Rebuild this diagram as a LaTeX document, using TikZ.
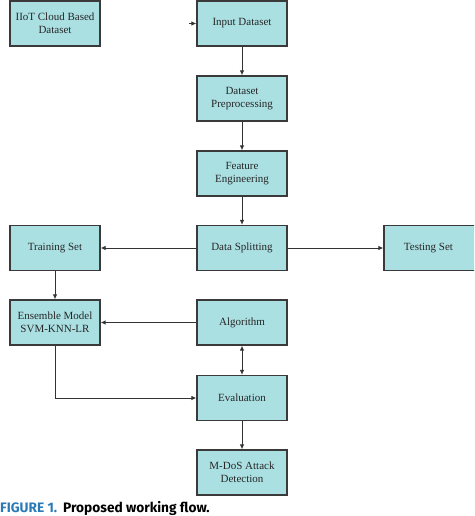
\documentclass[tikz,border=0pt]{standalone}
\usepackage{fontspec}
\setmainfont{Liberation Serif}
\newfontfamily\capfont{Fira Sans}
\usetikzlibrary{arrows.meta}
\definecolor{boxfill}{HTML}{ABE0E3}
\definecolor{boxline}{HTML}{3A3A3A}
\definecolor{capblue}{HTML}{2A7AB8}
\begin{document}
\begin{tikzpicture}[x=1pt,y=-1pt,
  blk/.style={draw=boxline, line width=1.3pt, fill=boxfill, minimum width=90pt, minimum height=45pt,
    inner sep=0pt, align=center, font=\fontsize{11}{13}\selectfont, text=black!85},
  conn/.style={draw=black!80, line width=0.9pt, -{Latex[length=5pt,width=4.5pt]}},
  dconn/.style={draw=black!80, line width=0.9pt, {Latex[length=5pt,width=4.5pt]}-{Latex[length=5pt,width=4.5pt]}}]
\useasboundingbox (0,0) rectangle (474,516);
\clip (0,0) rectangle (474,516);
\node[blk] (iiot) at (55,23.5) {IIoT Cloud Based\\Dataset};
\node[blk] (input) at (242,23.5) {Input Dataset};
\node[blk] (prep) at (242,98.5) {Dataset\\Preprocessing};
\node[blk] (feat) at (242,173.5) {Feature\\Engineering};
\node[blk] (split) at (242,248) {Data Splitting};
\node[blk] (train) at (55,248) {Training Set};
\node[blk, minimum width=92pt] (test) at (430,248) {\hspace*{-3pt}Testing Set};
\node[blk] (ens) at (55,322.5) {Ensemble Model\\SVM-KNN-LR};
\node[blk] (alg) at (242,322.5) {Algorithm};
\node[blk] (eval) at (242,398) {Evaluation};
\node[blk] (mdos) at (242,472.5) {M-DoS Attack\\Detection};
\coordinate (stub) at (189,23.5);
\draw[conn] (stub) -- (input.west);
\draw[conn] (input) -- (prep);
\draw[conn] (prep) -- (feat);
\draw[conn] (feat) -- (split);
\draw[conn] (split) -- (train);
\draw[conn] (split) -- (test);
\draw[conn] (train) -- (ens);
\draw[conn] (alg) -- (ens);
\draw[dconn] (alg) -- (eval);
\draw[conn] (ens.south) |- (eval.west);
\draw[conn] (eval) -- (mdos);
\node[anchor=base west, inner sep=0pt, font=\capfont\bfseries\fontsize{13.7}{15}\selectfont] (cap) at (0,512)
  {\textcolor{capblue}{FIGURE 1.}\hspace{6pt}Proposed working flow.};
\end{tikzpicture}
\end{document}
